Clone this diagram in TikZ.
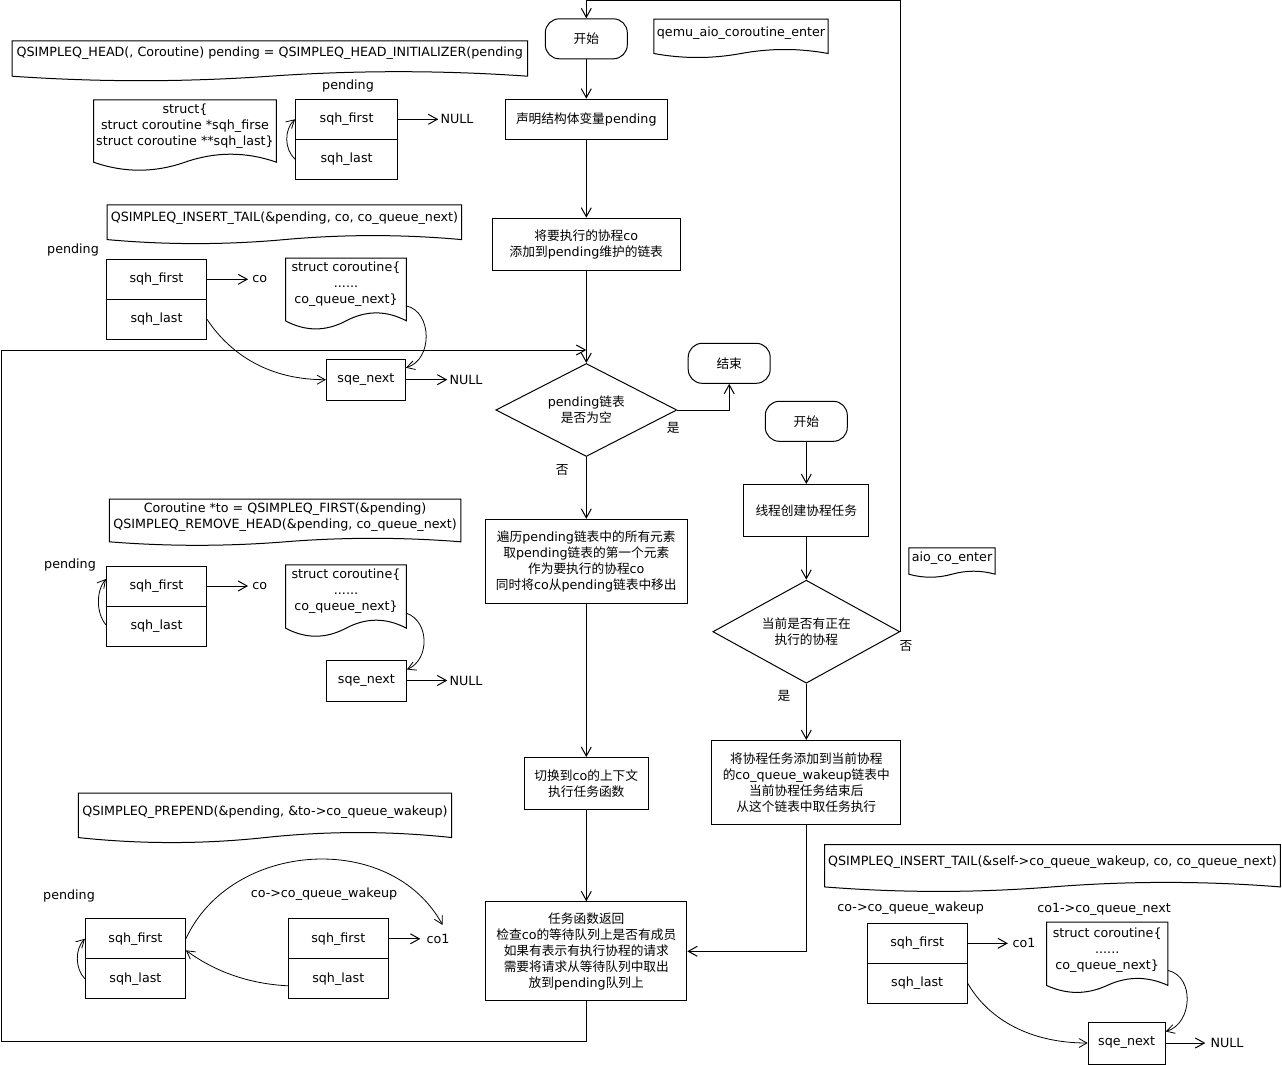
\documentclass[tikz,border=0pt]{standalone}
\usepackage{fontspec}
\setmainfont{DejaVu Sans}
\newfontfamily\cjk{Noto Sans CJK SC}
\usetikzlibrary{arrows.meta,shapes.geometric,calc}
\newcommand\zh[1]{{\cjk #1}}
\newcommand\docdraw[3]{%
\draw[docline] let \p1=(#1.south west), \p2=(#1.south east) in
 (#1.north west) -- (#1.north east) -- (\x2,\y2-#2pt)
 .. controls ({\x2-(\x2-\x1)/6},{\y2-#2pt+#3pt*4/3}) and ({\x2-(\x2-\x1)/3},{\y2-#2pt+#3pt*4/3}) .. ({(\x1+\x2)/2},{\y2-#2pt})
 .. controls ({\x1+(\x2-\x1)/3},{\y2-#2pt-#3pt*4/3}) and ({\x1+(\x2-\x1)/6},{\y2-#2pt-#3pt*4/3}) .. (\x1,\y1-#2pt) -- cycle;}
\begin{document}
\begin{tikzpicture}[x=1pt,y=-1pt,
  every node/.style={font=\fontsize{12.7}{16}\selectfont},
  arr/.style={line width=1pt,-{Straight Barb[length=9pt,width=10pt]}},
  carr/.style={line width=0.8pt,-{Straight Barb[length=8pt,width=9pt]}},
  proc/.style={draw,line width=1pt,rectangle,inner sep=0pt,align=center},
  term/.style={draw,line width=1pt,rounded corners=14pt,minimum width=82pt,minimum height=40pt,inner sep=0pt},
  dec/.style={draw,line width=1pt,diamond,aspect=1.9,inner sep=0pt,align=center},
  fld/.style={draw,line width=1pt,minimum width=100pt,minimum height=40pt,inner sep=0pt},
  lbl/.style={inner sep=1pt},
  docn/.style={inner sep=0pt,align=center},
  docline/.style={line width=1pt},
]
\fill[white] (0,0) rectangle (1282,1065);
\useasboundingbox (0,0) rectangle (1282,1065);

% ---------- main flow ----------
\node[term] (start1) at (586.3,38.8) {\zh{开始}};
\node[docn,minimum width=174pt,minimum height=28pt] (dq) at (741,33.3) {qemu\_aio\_coroutine\_enter};
\docdraw{dq}{6}{4}
\node[proc,minimum width=162pt,minimum height=40pt] (decl) at (586.3,119.2) {\zh{声明结构体变量}pending};
\node[proc,minimum width=188pt,minimum height=52pt] (add) at (586.3,244.2) {\zh{将要执行的协程}co\\\zh{添加到}pending\zh{维护的链表}};
\node[dec,minimum width=181pt,minimum height=93pt] (dia1) at (586.3,410) {pending\zh{链表}\\\zh{是否为空}};
\node[term] (endn) at (729.2,363.3) {\zh{结束}};
\node[lbl] (yes1) at (673.3,428.3) {\zh{是}};
\node[lbl] (no1) at (562.3,470) {\zh{否}};
\node[proc,minimum width=202pt,minimum height=84pt] (trav) at (586.3,561.3) {\zh{遍历}pending\zh{链表中的所有元素}\\\zh{取}pending\zh{链表的第一个元素}\\\zh{作为要执行的协程}co\\\zh{同时将}co\zh{从}pending\zh{链表中移出}};
\node[proc,minimum width=124pt,minimum height=52pt] (sw) at (586.3,783.5) {\zh{切换到}co\zh{的上下文}\\\zh{执行任务函数}};
\node[proc,minimum width=201pt,minimum height=99pt] (ret) at (586.3,951.3) {\zh{任务函数返回}\\\zh{检查}co\zh{的等待队列上是否有成员}\\\zh{如果有表示有执行协程的请求}\\\zh{需要将请求从等待队列中取出}\\\zh{放到}pending\zh{队列上}};

\node[term] (start2) at (806.3,421.3) {\zh{开始}};
\node[proc,minimum width=125pt,minimum height=52pt] (create) at (806.3,510.5) {\zh{线程创建协程任务}};
\node[dec,minimum width=187pt,minimum height=103pt] (dia2) at (806.3,631.7) {\zh{当前是否有正在}\\\zh{执行的协程}};
\node[lbl] (no2) at (906,645.7) {\zh{否}};
\node[lbl] (yes2) at (784,695.7) {\zh{是}};
\node[proc,minimum width=189pt,minimum height=84pt] (addw) at (806.3,782.5) {\zh{将协程任务添加到当前协程}\\\zh{的}co\_queue\_wakeup\zh{链表中}\\\zh{当前协程任务结束后}\\\zh{从这个链表中取任务执行}};
\node[docn,minimum width=86pt,minimum height=20pt] (da) at (952,558) {aio\_co\_enter};
\docdraw{da}{6}{3}

\coordinate (lb) at (1,1041);
\coordinate (lt) at (1,350);
\coordinate (li) at (586.3,350);
\coordinate (tl) at (586.3,1);

\draw[arr] (start1.south) -- (decl.north);
\draw[arr] (decl.south) -- (add.north);
\draw[arr] (add.south) -- (dia1.north);
\draw[arr] (dia1.east) -| (endn.south);
\draw[arr] (dia1.south) -- (trav.north);
\draw[arr] (trav.south) -- (sw.north);
\draw[arr] (sw.south) -- (ret.north);
\draw[arr] (ret.south) |- (lb) -- (lt) -- (li);
\draw[arr] (start2.south) -- (create.north);
\draw[arr] (create.south) -- (dia2.north);
\draw[arr] (dia2.south) -- (addw.north);
\draw[arr] (dia2.east) |- (tl) -- (start1.north);
\draw[arr] (addw.south) |- (ret.east);

% ---------- QSIMPLEQ_HEAD ----------
\node[docn,minimum width=515pt,minimum height=25pt] (d1) at (269.8,53.5) {QSIMPLEQ\_HEAD(, Coroutine) pending = QSIMPLEQ\_HEAD\_INITIALIZER(pending};
\docdraw{d1}{10}{4.5}
\node[lbl] (p1) at (348,86) {pending};
\node[docn,minimum width=182.5pt,minimum height=52pt] (ds1) at (185,126) {struct\{\\struct coroutine *sqh\_firse\\struct coroutine **sqh\_last\}};
\docdraw{ds1}{10}{8}
\node[fld,minimum width=102pt] (f1) at (346.6,119.3) {sqh\_first};
\node[fld,minimum width=102pt] (l1) at (346.6,159.3) {sqh\_last};
\node[lbl] (n1) at (457,119.3) {NULL};
\draw[arr] (f1.east) -- ([xshift=-1pt]n1.west);
\draw[carr] (l1.west) .. controls +(-11,-10) and +(-11,10) .. (f1.west);

% ---------- INSERT_TAIL ----------
\node[docn,minimum width=354pt,minimum height=26.4pt] (d2) at (284.4,218.2) {QSIMPLEQ\_INSERT\_TAIL(\&pending, co, co\_queue\_next)};
\docdraw{d2}{8}{4}
\node[lbl] (p2) at (73,250) {pending};
\node[fld] (f2) at (156.5,279.3) {sqh\_first};
\node[fld] (l2) at (156.5,319.3) {sqh\_last};
\node[lbl] (c2) at (259.7,279.3) {co};
\draw[arr] (f2.east) -- ([xshift=-3pt]c2.west);
\node[docn,minimum width=120.5pt,minimum height=51.4pt] (ds2) at (346,284) {struct coroutine\{\\......\\co\_queue\_next\}};
\docdraw{ds2}{11}{8}
\node[fld,minimum width=79pt,minimum height=41pt] (s2) at (365.9,379.7) {sqe\_next};
\node[lbl] (n2) at (466,379.7) {NULL};
\draw[arr] (s2.east) -- ([xshift=-1pt]n2.west);
\draw[carr] (l2.east) .. controls +(24,36) and +(-56,0) .. (s2.west);
\draw[carr] ([yshift=4pt]ds2.south east) .. controls +(26,6) and +(27,-8) .. ([yshift=-9pt]s2.north east);

% ---------- FIRST / REMOVE_HEAD ----------
\node[docn,minimum width=351pt,minimum height=34.8pt] (d3) at (285.1,516.7) {Coroutine *to = QSIMPLEQ\_FIRST(\&pending)\\QSIMPLEQ\_REMOVE\_HEAD(\&pending, co\_queue\_next)};
\docdraw{d3}{7.5}{3.5}
\node[lbl] (p3) at (70,565) {pending};
\node[fld] (f3) at (156.5,586) {sqh\_first};
\node[fld] (l3) at (156.5,626) {sqh\_last};
\node[lbl] (c3) at (259.7,586) {co};
\draw[arr] (f3.east) -- ([xshift=-3pt]c3.west);
\draw[carr] ([yshift=1pt]l3.west) .. controls +(-10,-12) and +(-10,12) .. ([yshift=7pt]f3.west);
\node[docn,minimum width=120.5pt,minimum height=52pt] (ds3) at (346,591) {struct coroutine\{\\......\\co\_queue\_next\}};
\docdraw{ds3}{11}{8}
\node[fld,minimum width=80pt,minimum height=41pt] (s3) at (366.4,680.5) {sqe\_next};
\node[lbl] (n3) at (466,680.5) {NULL};
\draw[arr] (s3.east) -- ([xshift=-1pt]n3.west);
\draw[carr] ([yshift=4pt]ds3.south east) .. controls +(23,8) and +(23,-10) .. ([yshift=-10pt]s3.north east);

% ---------- PREPEND ----------
\node[docn,minimum width=373pt,minimum height=36.7pt] (d4) at (265,811.7) {QSIMPLEQ\_PREPEND(\&pending, \&to->co\_queue\_wakeup)};
\docdraw{d4}{7.3}{5}
\node[lbl] (p4) at (69,896) {pending};
\node[fld] (f4) at (135.4,938.8) {sqh\_first};
\node[fld] (l4) at (135.4,978.8) {sqh\_last};
\draw[carr] (l4.west) .. controls +(-10,-10) and +(-10,10) .. (f4.west);
\node[lbl] (w5) at (324,894) {co->co\_queue\_wakeup};
\node[fld] (f5) at (338.3,938.8) {sqh\_first};
\node[fld] (l5) at (338.3,978.8) {sqh\_last};
\node[lbl] (c5) at (438,938.8) {co1};
\draw[arr] (f5.east) -- ([xshift=-5pt]c5.west);
\draw[carr] (f4.east) .. controls +(45,-98) and +(-52,-95) .. ([shift={(4.5,-8)}]c5.north);
\draw[carr] ([yshift=-7pt]l5.west) .. controls +(-38,-2) and +(30,22) .. ([yshift=9pt]f4.south east);

% ---------- INSERT_TAIL self ----------
\node[docn,minimum width=455.3pt,minimum height=34pt] (d5) at (1052.4,861.7) {QSIMPLEQ\_INSERT\_TAIL(\&self->co\_queue\_wakeup, co, co\_queue\_next)};
\docdraw{d5}{8}{4.5}
\node[lbl] (w6) at (910.7,908.3) {co->co\_queue\_wakeup};
\node[lbl] (nx6) at (1104,909) {co1->co\_queue\_next};
\node[fld] (f6) at (917.2,943.3) {sqh\_first};
\node[fld] (l6) at (917.2,983.3) {sqh\_last};
\node[lbl] (c6) at (1024,943.3) {co1};
\draw[arr] (f6.east) -- ([xshift=-3.5pt]c6.west);
\node[docn,minimum width=121pt,minimum height=55pt] (ds6) at (1107.2,949.7) {struct coroutine\{\\......\\co\_queue\_next\}};
\docdraw{ds6}{8}{7}
\node[fld,minimum width=77pt,minimum height=42pt] (s6) at (1126.7,1043) {sqe\_next};
\node[lbl] (n6) at (1227,1043) {NULL};
\draw[arr] (s6.east) -- ([xshift=-4pt]n6.west);
\draw[carr] (l6.east) .. controls +(22,38) and +(-55,0) .. (s6.west);
\draw[carr] ([yshift=7pt]ds6.south east) .. controls +(27,6) and +(27,-8) .. ([yshift=-10pt]s6.north east);
\end{tikzpicture}
\end{document}
